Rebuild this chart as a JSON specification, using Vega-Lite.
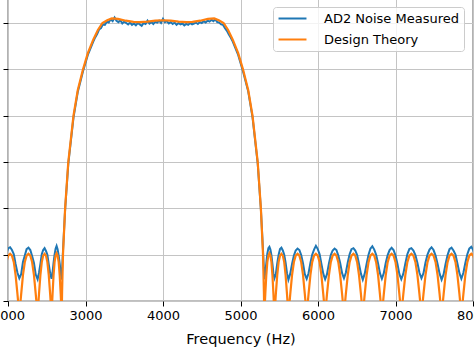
{
  "$schema": "https://vega.github.io/schema/vega-lite/v6.json",
  "width": 465,
  "height": 320,
  "autosize": {"type": "none"},
  "padding": {"left": 8, "top": -19, "right": 1, "bottom": 52},
  "background": "white",
  "config": {
    "font": "DejaVu Sans",
    "view": {"stroke": "#000000", "strokeWidth": 1.2},
    "axis": {
      "domain": false,
      "grid": true,
      "gridColor": "#c4c4c4",
      "gridWidth": 1,
      "tickColor": "#000000",
      "tickSize": 5,
      "tickWidth": 1,
      "labelColor": "#000000",
      "labelFontSize": 13,
      "labelFlush": false,
      "labelOverlap": false,
      "labelBound": false,
      "titleColor": "#000000",
      "titleFontSize": 14.5,
      "titleFontWeight": "normal"
    }
  },
  "datasets": {
    "measured": [
      {"f":1908,"v":4.8},{"f":1932,"v":6.0},{"f":1956,"v":8.3},{"f":1979,"v":10.2},{"f":2003,"v":11.4},{"f":2027,"v":11.6},{"f":2051,"v":11.0},{"f":2075,"v":10.1},{"f":2098,"v":8.0},{"f":2122,"v":6.1},
      {"f":2146,"v":4.9},{"f":2170,"v":5.8},{"f":2193,"v":8.4},{"f":2217,"v":9.8},{"f":2240,"v":11.2},{"f":2264,"v":11.5},{"f":2288,"v":11.0},{"f":2311,"v":9.7},{"f":2335,"v":8.2},{"f":2358,"v":5.7},
      {"f":2382,"v":4.7},{"f":2400,"v":6.1},{"f":2418,"v":8.0},{"f":2436,"v":10.1},{"f":2454,"v":11.0},{"f":2472,"v":11.4},{"f":2490,"v":10.8},{"f":2508,"v":10.0},{"f":2526,"v":7.9},{"f":2544,"v":6.0},
      {"f":2562,"v":4.8},{"f":2575,"v":6.2},{"f":2588,"v":8.3},{"f":2601,"v":10.0},{"f":2614,"v":11.3},{"f":2627,"v":11.9},{"f":2640,"v":11.2},{"f":2654,"v":9.8},{"f":2667,"v":8.1},{"f":2680,"v":6.0},
      {"f":2693,"v":4.6},{"f":2698,"v":6.8},{"f":2710,"v":11.0},{"f":2737,"v":19.7},{"f":2778,"v":29.6},{"f":2845,"v":39.6},{"f":2900,"v":45.1},{"f":2968,"v":49.6},{"f":3030,"v":53.1},{"f":3100,"v":56.0},
      {"f":3125,"v":56.9},{"f":3150,"v":57.6},{"f":3175,"v":58.6},{"f":3200,"v":58.9},{"f":3225,"v":59.7},{"f":3250,"v":59.6},{"f":3275,"v":60.3},{"f":3300,"v":60.1},{"f":3325,"v":60.8},{"f":3350,"v":60.4},
      {"f":3375,"v":61.2},{"f":3400,"v":60.5},{"f":3425,"v":60.2},{"f":3450,"v":60.6},{"f":3475,"v":59.9},{"f":3500,"v":60.3},{"f":3525,"v":60.0},{"f":3550,"v":59.7},{"f":3575,"v":60.1},{"f":3600,"v":59.6},
      {"f":3625,"v":59.9},{"f":3650,"v":59.5},{"f":3675,"v":60.0},{"f":3700,"v":59.7},{"f":3725,"v":59.4},{"f":3750,"v":60.0},{"f":3775,"v":59.8},{"f":3800,"v":60.5},{"f":3825,"v":59.9},{"f":3850,"v":60.2},
      {"f":3875,"v":59.8},{"f":3900,"v":60.3},{"f":3925,"v":60.1},{"f":3950,"v":60.5},{"f":3975,"v":60.0},{"f":4000,"v":60.9},{"f":4025,"v":60.2},{"f":4050,"v":60.4},{"f":4075,"v":59.9},{"f":4100,"v":60.2},
      {"f":4125,"v":59.8},{"f":4150,"v":60.1},{"f":4175,"v":59.6},{"f":4200,"v":60.0},{"f":4225,"v":59.7},{"f":4250,"v":59.9},{"f":4275,"v":59.5},{"f":4300,"v":59.8},{"f":4325,"v":59.6},{"f":4350,"v":60.0},
      {"f":4375,"v":59.7},{"f":4400,"v":59.9},{"f":4425,"v":60.1},{"f":4450,"v":59.8},{"f":4475,"v":60.2},{"f":4500,"v":60.0},{"f":4525,"v":60.4},{"f":4550,"v":60.1},{"f":4575,"v":60.5},{"f":4600,"v":60.3},
      {"f":4625,"v":60.7},{"f":4650,"v":60.4},{"f":4675,"v":60.8},{"f":4700,"v":60.2},{"f":4725,"v":60.1},{"f":4750,"v":59.7},{"f":4775,"v":59.6},{"f":4800,"v":58.9},{"f":4825,"v":58.3},{"f":4850,"v":57.5},
      {"f":4875,"v":56.8},{"f":4900,"v":56.0},{"f":4970,"v":53.1},{"f":5032,"v":49.6},{"f":5100,"v":45.2},{"f":5155,"v":39.7},{"f":5222,"v":29.7},{"f":5263,"v":19.8},{"f":5290,"v":11.1},{"f":5302,"v":6.9},
      {"f":5307,"v":4.7},{"f":5320,"v":6.1},{"f":5333,"v":8.2},{"f":5346,"v":10.2},{"f":5360,"v":11.4},{"f":5373,"v":11.7},{"f":5386,"v":11.1},{"f":5399,"v":9.9},{"f":5412,"v":8.0},{"f":5425,"v":5.9},
      {"f":5438,"v":4.9},{"f":5456,"v":5.8},{"f":5474,"v":8.1},{"f":5492,"v":10.0},{"f":5510,"v":11.2},{"f":5528,"v":11.5},{"f":5546,"v":10.9},{"f":5564,"v":10.0},{"f":5582,"v":8.3},{"f":5600,"v":6.0},
      {"f":5618,"v":4.6},{"f":5642,"v":5.9},{"f":5665,"v":8.0},{"f":5689,"v":9.8},{"f":5712,"v":10.9},{"f":5736,"v":11.3},{"f":5760,"v":11.0},{"f":5783,"v":9.9},{"f":5807,"v":8.1},{"f":5830,"v":5.8},
      {"f":5854,"v":4.8},{"f":5878,"v":6.0},{"f":5902,"v":8.2},{"f":5925,"v":10.0},{"f":5949,"v":11.1},{"f":5973,"v":11.9},{"f":5997,"v":11.2},{"f":6021,"v":10.1},{"f":6044,"v":8.0},{"f":6068,"v":5.9},
      {"f":6092,"v":4.7},{"f":6116,"v":5.8},{"f":6141,"v":8.1},{"f":6165,"v":9.9},{"f":6189,"v":10.9},{"f":6214,"v":11.3},{"f":6238,"v":11.0},{"f":6262,"v":9.8},{"f":6286,"v":8.2},{"f":6311,"v":6.0},
      {"f":6335,"v":4.9},{"f":6359,"v":6.1},{"f":6384,"v":8.3},{"f":6408,"v":10.1},{"f":6432,"v":11.2},{"f":6457,"v":11.4},{"f":6481,"v":10.9},{"f":6505,"v":9.9},{"f":6529,"v":8.0},{"f":6554,"v":5.9},
      {"f":6578,"v":4.6},{"f":6603,"v":5.9},{"f":6627,"v":8.0},{"f":6652,"v":10.0},{"f":6676,"v":11.3},{"f":6701,"v":11.8},{"f":6726,"v":11.1},{"f":6750,"v":10.0},{"f":6775,"v":8.1},{"f":6799,"v":6.0},
      {"f":6824,"v":4.8},{"f":6849,"v":6.0},{"f":6874,"v":8.2},{"f":6899,"v":9.9},{"f":6924,"v":11.0},{"f":6950,"v":11.5},{"f":6975,"v":11.0},{"f":7000,"v":9.8},{"f":7025,"v":8.0},{"f":7050,"v":5.8},
      {"f":7075,"v":4.7},{"f":7101,"v":5.9},{"f":7127,"v":8.1},{"f":7153,"v":10.1},{"f":7179,"v":11.2},{"f":7205,"v":11.4},{"f":7231,"v":10.9},{"f":7257,"v":9.9},{"f":7283,"v":8.2},{"f":7309,"v":6.1},
      {"f":7335,"v":4.9},{"f":7361,"v":6.0},{"f":7387,"v":8.3},{"f":7413,"v":10.0},{"f":7439,"v":11.1},{"f":7465,"v":11.6},{"f":7491,"v":11.0},{"f":7517,"v":9.8},{"f":7543,"v":8.0},{"f":7569,"v":5.9},
      {"f":7595,"v":4.6},{"f":7621,"v":5.8},{"f":7646,"v":8.0},{"f":7672,"v":9.9},{"f":7697,"v":11.2},{"f":7723,"v":11.5},{"f":7748,"v":10.9},{"f":7774,"v":10.0},{"f":7799,"v":8.1},{"f":7825,"v":6.0},
      {"f":7850,"v":4.8},{"f":7876,"v":6.1},{"f":7901,"v":8.2},{"f":7927,"v":10.1},{"f":7952,"v":11.3},{"f":7978,"v":11.7},{"f":8003,"v":11.0},{"f":8029,"v":9.9},{"f":8054,"v":8.0},{"f":8080,"v":5.9},{"f":8105,"v":4.7}
    ],
    "theory": [
      {"f":1908,"v":-3},{"f":1932,"v":1.5},{"f":1956,"v":5.6},{"f":1979,"v":8.4},{"f":2003,"v":9.8},{"f":2027,"v":10.2},{"f":2051,"v":9.8},{"f":2075,"v":8.4},{"f":2098,"v":5.6},{"f":2122,"v":1.5},
      {"f":2146,"v":-3},{"f":2170,"v":1.5},{"f":2193,"v":5.6},{"f":2217,"v":8.4},{"f":2240,"v":9.8},{"f":2264,"v":10.2},{"f":2288,"v":9.8},{"f":2311,"v":8.4},{"f":2335,"v":5.6},{"f":2358,"v":1.5},
      {"f":2382,"v":-3},{"f":2400,"v":1.5},{"f":2418,"v":5.6},{"f":2436,"v":8.4},{"f":2454,"v":9.8},{"f":2472,"v":10.2},{"f":2490,"v":9.8},{"f":2508,"v":8.4},{"f":2526,"v":5.6},{"f":2544,"v":1.5},
      {"f":2562,"v":-3},{"f":2575,"v":1.5},{"f":2588,"v":5.6},{"f":2601,"v":8.4},{"f":2614,"v":9.8},{"f":2627,"v":10.3},{"f":2640,"v":9.8},{"f":2654,"v":8.4},{"f":2667,"v":5.6},{"f":2680,"v":1.5},
      {"f":2693,"v":-3},{"f":2698,"v":2},{"f":2710,"v":10.2},{"f":2737,"v":20},{"f":2778,"v":30},{"f":2845,"v":40},{"f":2900,"v":45.5},{"f":2968,"v":50},{"f":3030,"v":53.5},{"f":3100,"v":56.4},
      {"f":3160,"v":58.5},{"f":3218,"v":60},{"f":3280,"v":60.6},{"f":3340,"v":61.0},{"f":3420,"v":60.9},{"f":3520,"v":60.5},{"f":3620,"v":60.25},{"f":3700,"v":60.2},{"f":3800,"v":60.3},{"f":3900,"v":60.5},
      {"f":4000,"v":60.6},{"f":4100,"v":60.5},{"f":4200,"v":60.3},{"f":4300,"v":60.2},{"f":4380,"v":60.25},{"f":4480,"v":60.5},{"f":4580,"v":60.9},{"f":4660,"v":61.0},{"f":4720,"v":60.6},{"f":4782,"v":60},
      {"f":4840,"v":58.5},{"f":4900,"v":56.4},{"f":4970,"v":53.5},{"f":5032,"v":50},{"f":5100,"v":45.5},{"f":5155,"v":40},{"f":5222,"v":30},{"f":5263,"v":20},{"f":5290,"v":10.2},{"f":5302,"v":2},
      {"f":5307,"v":-3},{"f":5320,"v":1.5},{"f":5333,"v":5.6},{"f":5346,"v":8.4},{"f":5360,"v":9.8},{"f":5373,"v":10.3},{"f":5386,"v":9.8},{"f":5399,"v":8.4},{"f":5412,"v":5.6},{"f":5425,"v":1.5},
      {"f":5438,"v":-3},{"f":5456,"v":1.5},{"f":5474,"v":5.6},{"f":5492,"v":8.4},{"f":5510,"v":9.8},{"f":5528,"v":10.2},{"f":5546,"v":9.8},{"f":5564,"v":8.4},{"f":5582,"v":5.6},{"f":5600,"v":1.5},
      {"f":5618,"v":-3},{"f":5642,"v":1.5},{"f":5665,"v":5.6},{"f":5689,"v":8.4},{"f":5712,"v":9.8},{"f":5736,"v":10.2},{"f":5760,"v":9.8},{"f":5783,"v":8.4},{"f":5807,"v":5.6},{"f":5830,"v":1.5},
      {"f":5854,"v":-3},{"f":5878,"v":1.5},{"f":5902,"v":5.6},{"f":5925,"v":8.4},{"f":5949,"v":9.8},{"f":5973,"v":10.2},{"f":5997,"v":9.8},{"f":6021,"v":8.4},{"f":6044,"v":5.6},{"f":6068,"v":1.5},
      {"f":6092,"v":-3},{"f":6116,"v":1.5},{"f":6141,"v":5.6},{"f":6165,"v":8.4},{"f":6189,"v":9.8},{"f":6214,"v":10.2},{"f":6238,"v":9.8},{"f":6262,"v":8.4},{"f":6286,"v":5.6},{"f":6311,"v":1.5},
      {"f":6335,"v":-3},{"f":6359,"v":1.5},{"f":6384,"v":5.6},{"f":6408,"v":8.4},{"f":6432,"v":9.8},{"f":6457,"v":10.2},{"f":6481,"v":9.8},{"f":6505,"v":8.4},{"f":6529,"v":5.6},{"f":6554,"v":1.5},
      {"f":6578,"v":-3},{"f":6603,"v":1.5},{"f":6627,"v":5.6},{"f":6652,"v":8.4},{"f":6676,"v":9.8},{"f":6701,"v":10.2},{"f":6726,"v":9.8},{"f":6750,"v":8.4},{"f":6775,"v":5.6},{"f":6799,"v":1.5},
      {"f":6824,"v":-3},{"f":6849,"v":1.5},{"f":6874,"v":5.6},{"f":6899,"v":8.4},{"f":6924,"v":9.8},{"f":6950,"v":10.2},{"f":6975,"v":9.8},{"f":7000,"v":8.4},{"f":7025,"v":5.6},{"f":7050,"v":1.5},
      {"f":7075,"v":-3},{"f":7101,"v":1.5},{"f":7127,"v":5.6},{"f":7153,"v":8.4},{"f":7179,"v":9.8},{"f":7205,"v":10.2},{"f":7231,"v":9.8},{"f":7257,"v":8.4},{"f":7283,"v":5.6},{"f":7309,"v":1.5},
      {"f":7335,"v":-3},{"f":7361,"v":1.5},{"f":7387,"v":5.6},{"f":7413,"v":8.4},{"f":7439,"v":9.8},{"f":7465,"v":10.2},{"f":7491,"v":9.8},{"f":7517,"v":8.4},{"f":7543,"v":5.6},{"f":7569,"v":1.5},
      {"f":7595,"v":-3},{"f":7621,"v":1.5},{"f":7646,"v":5.6},{"f":7672,"v":8.4},{"f":7697,"v":9.8},{"f":7723,"v":10.2},{"f":7748,"v":9.8},{"f":7774,"v":8.4},{"f":7799,"v":5.6},{"f":7825,"v":1.5},
      {"f":7850,"v":-3},{"f":7876,"v":1.5},{"f":7901,"v":5.6},{"f":7927,"v":8.4},{"f":7952,"v":9.8},{"f":7978,"v":10.2},{"f":8003,"v":9.8},{"f":8029,"v":8.4},{"f":8054,"v":5.6},{"f":8080,"v":1.5},{"f":8105,"v":-3}
    ]
  },
  "encoding": {
    "x": {
      "field": "f",
      "type": "quantitative",
      "scale": {"domain": [2000, 8000], "nice": false, "zero": false},
      "axis": {"values": [2000, 3000, 4000, 5000, 6000, 7000, 8000], "format": "d", "title": "Frequency (Hz)", "labelPadding": 3, "titlePadding": 10}
    },
    "y": {
      "field": "v",
      "type": "quantitative",
      "scale": {"domain": [0, 69.07], "nice": false, "zero": false},
      "axis": {"values": [0, 10, 20, 30, 40, 50, 60], "labels": false, "title": null}
    },
    "color": {
      "type": "nominal",
      "scale": {"domain": ["AD2 Noise Measured", "Design Theory"], "range": ["#1f77b4", "#ff7f0e"]},
      "legend": {
        "title": null,
        "orient": "none",
        "legendX": 265,
        "legendY": 26,
        "padding": 4,
        "fillColor": "rgba(255,255,255,0.8)",
        "strokeColor": "#cccccc",
        "cornerRadius": 3,
        "symbolType": "M-2.15,0H2.15",
        "symbolStrokeWidth": 2,
        "symbolSize": 169,
        "symbolOffset": 8,
        "labelFontSize": 13,
        "labelColor": "#000000",
        "labelOffset": 24,
        "rowPadding": 6
      }
    }
  },
  "layer": [
    {
      "data": {"name": "measured"},
      "mark": {"type": "line", "clip": true, "strokeWidth": 2},
      "encoding": {"color": {"datum": "AD2 Noise Measured"}}
    },
    {
      "data": {"name": "theory"},
      "mark": {"type": "line", "clip": true, "strokeWidth": 2.2},
      "encoding": {"color": {"datum": "Design Theory"}}
    }
  ]
}
